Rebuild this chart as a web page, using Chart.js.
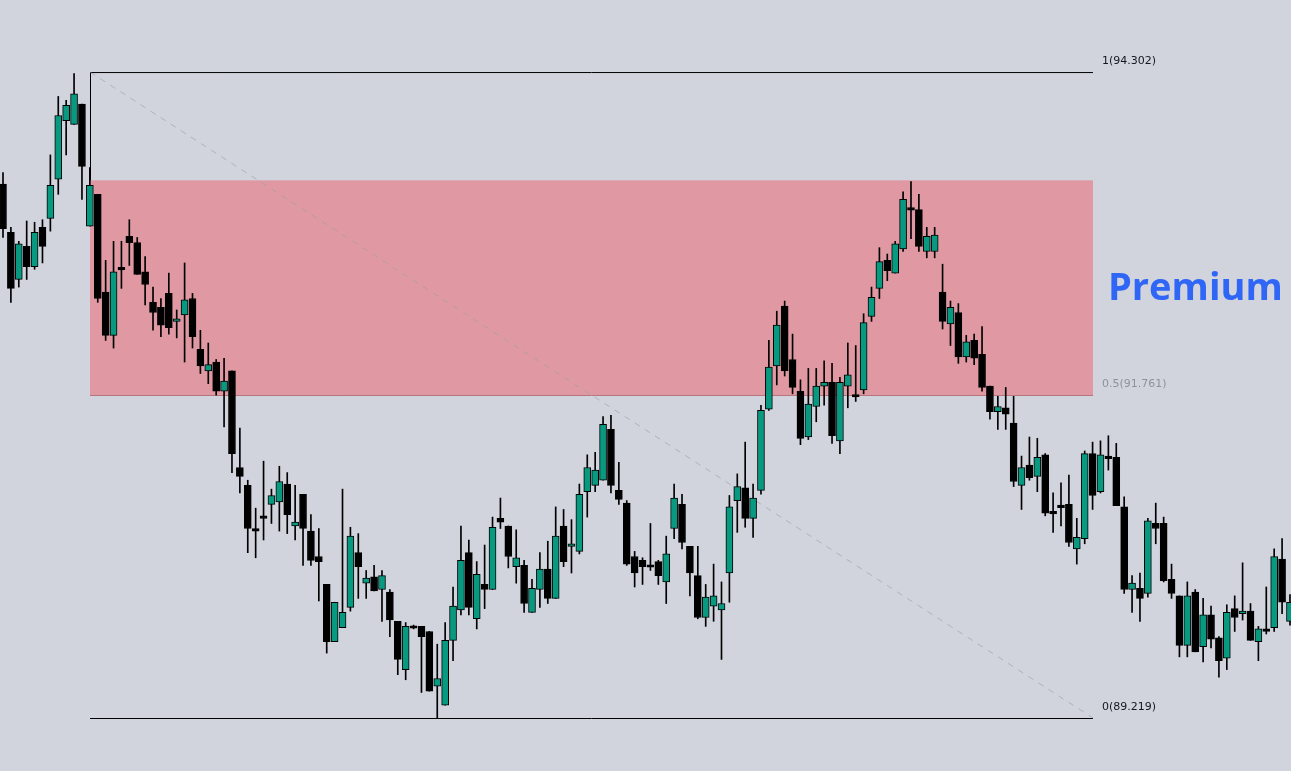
<!DOCTYPE html>
<html><head><meta charset="utf-8">
<script src="https://cdn.jsdelivr.net/npm/chart.js@4.4.1/dist/chart.umd.min.js"></script>
<style>html,body{margin:0;padding:0;background:#D1D4DD;}#w{width:1291px;height:771px;}</style>
</head><body><div id="w"><canvas id="c"></canvas></div>
<script>
const opens=[93.42,93.04,92.67,92.93,92.77,93.08,93.15,93.46,93.92,93.89,94.05,93.09,93.34,92.57,92.23,92.76,93.01,92.96,92.73,92.49,92.45,92.56,92.34,92.39,92.52,92.12,91.95,92.02,91.79,91.95,91.19,91.05,90.71,90.81,90.90,90.92,91.06,90.73,90.98,90.69,90.49,90.27,89.82,89.93,90.09,90.52,90.28,90.33,90.23,90.21,89.98,89.60,89.94,89.94,89.90,89.47,89.32,89.83,90.07,90.52,90.00,90.27,90.23,90.79,90.73,90.41,90.42,90.05,90.23,90.39,90.16,90.73,90.57,90.53,91.00,91.05,91.09,91.49,91.01,90.91,90.49,90.46,90.42,90.45,90.29,90.71,90.90,90.57,90.34,90.01,90.10,90.07,90.36,90.93,91.03,90.79,91.01,91.65,91.99,92.46,92.04,91.79,91.43,91.67,91.83,91.86,91.40,91.83,91.76,91.80,92.38,92.60,92.82,92.72,92.91,93.23,93.22,92.89,92.89,92.57,92.32,92.41,92.06,92.19,92.08,91.83,91.63,91.66,91.54,91.05,91.21,91.12,91.29,90.84,90.89,90.90,90.55,90.63,91.30,91.00,91.28,91.27,90.88,90.23,90.24,90.20,90.75,90.75,90.31,90.18,89.79,90.21,89.78,90.03,89.85,89.69,90.08,90.04,90.06,89.82,89.92,89.93,90.47,89.98];
const highs=[93.51,93.08,92.97,93.13,93.12,93.14,93.65,94.11,94.08,94.29,94.05,93.55,93.34,92.82,92.97,92.97,93.14,93.00,92.85,92.61,92.52,92.72,92.43,92.80,92.56,92.27,92.17,92.04,92.05,91.95,91.50,91.09,90.87,91.24,91.02,91.20,91.15,91.05,90.98,90.82,90.71,90.27,90.13,91.02,90.72,90.67,90.38,90.42,90.38,90.23,89.98,89.97,89.95,89.94,89.90,89.80,89.97,90.25,90.73,90.62,90.45,90.58,90.80,90.95,90.73,90.70,90.46,90.31,90.52,90.61,90.88,90.86,90.78,91.06,91.29,91.31,91.59,91.60,91.23,90.93,90.53,90.48,90.75,90.46,90.65,91.06,90.98,90.57,90.57,90.27,90.43,90.29,90.97,91.14,91.39,91.06,91.68,92.19,92.42,92.50,92.24,91.88,91.97,91.97,92.03,92.01,91.90,92.17,92.15,92.40,92.61,92.92,92.87,92.97,93.36,93.44,93.34,93.08,93.08,92.79,92.50,92.48,92.23,92.24,92.30,91.83,91.75,91.82,91.75,91.28,91.43,91.42,91.30,90.99,91.07,91.13,90.79,91.32,91.39,91.40,91.44,91.38,90.96,90.34,90.36,90.79,90.91,90.80,90.43,90.18,90.29,90.23,90.16,90.10,89.86,90.11,90.18,90.44,90.12,89.94,90.25,90.55,90.63,90.19];
const lows=[93.00,92.49,92.61,92.67,92.75,92.80,93.05,93.34,93.65,93.89,93.30,93.09,92.49,92.19,92.13,92.60,92.78,92.71,92.47,92.27,92.22,92.24,92.21,92.02,92.13,91.93,91.85,91.76,91.51,91.15,90.99,90.52,90.48,90.62,90.75,90.69,90.67,90.62,90.42,90.42,90.14,89.73,89.82,89.93,90.06,90.16,90.16,90.22,89.98,89.86,89.56,89.52,89.92,89.42,89.43,89.22,89.32,89.67,90.03,90.03,89.92,90.08,90.23,90.71,90.40,90.28,90.05,90.05,90.09,90.12,90.16,90.41,90.36,90.51,90.80,91.00,91.09,90.99,90.90,90.42,90.25,90.27,90.38,90.27,90.12,90.63,90.55,90.18,90.00,89.94,89.98,89.68,90.13,90.68,90.72,90.64,90.98,91.64,91.84,91.91,91.77,91.37,91.41,91.55,91.68,91.38,91.30,91.66,91.71,91.77,92.34,92.52,92.66,92.72,92.89,92.99,92.89,92.84,92.84,92.28,92.15,92.01,92.02,92.00,91.79,91.57,91.49,91.49,91.04,90.86,91.09,91.00,90.81,90.68,90.73,90.57,90.43,90.59,90.86,90.99,91.17,90.89,90.20,90.05,89.98,90.17,90.59,90.29,90.16,89.70,89.70,89.74,89.66,89.77,89.54,89.60,89.90,89.99,89.83,89.67,89.88,89.90,90.04,89.95];
const closes=[93.07,92.60,92.95,92.77,93.04,92.93,93.41,93.96,94.04,94.13,93.56,93.41,92.52,92.23,92.73,92.75,92.96,92.71,92.63,92.41,92.31,92.29,92.36,92.51,92.22,91.99,92.00,91.79,91.87,91.30,91.12,90.71,90.69,90.79,90.97,91.08,90.82,90.76,90.71,90.46,90.45,89.82,90.13,90.05,90.65,90.41,90.32,90.22,90.34,89.99,89.68,89.94,89.93,89.86,89.43,89.53,89.83,90.10,90.46,90.09,90.35,90.23,90.72,90.76,90.49,90.48,90.12,90.24,90.39,90.16,90.65,90.45,90.59,90.98,91.19,91.17,91.53,91.05,90.94,90.43,90.36,90.41,90.41,90.34,90.51,90.95,90.60,90.36,90.01,90.17,90.18,90.12,90.88,91.04,90.79,90.95,91.64,91.98,92.31,91.95,91.82,91.42,91.69,91.83,91.86,91.44,91.86,91.92,91.75,92.33,92.53,92.81,92.74,92.95,93.30,93.22,92.93,93.01,93.02,92.34,92.45,92.06,92.18,92.05,91.82,91.63,91.67,91.61,91.08,91.19,91.11,91.27,90.83,90.83,90.88,90.60,90.64,91.30,90.97,91.29,91.26,90.89,90.23,90.28,90.16,90.77,90.71,90.30,90.20,89.79,90.18,89.74,90.03,89.84,89.67,90.05,90.01,90.06,89.83,89.92,89.90,90.49,90.13,90.13];
const fibLevels=[94.302,91.761,89.219];
const fibLabels=['1(94.302)','0.5(91.761)','0(89.219)'];
const zoneTop=93.45;
const fibStart=12.02, fibEnd=139.05;

const idx=opens.map((_,i)=>i+1);
const wicks=idx.map((x,i)=>({x,y:[lows[i],highs[i]]}));
const bodies=idx.map((x,i)=>{let a=Math.min(opens[i],closes[i]),b=Math.max(opens[i],closes[i]);if(b-a<0.02){const m=(a+b)/2;a=m-0.01;b=m+0.01;}return {x,y:[a,b]};});
const bodyCol=idx.map((x,i)=>closes[i]>=opens[i]?'#089981':'#000000');

const overlay={id:'overlay',beforeDatasetsDraw(ch){
 const {ctx,scales:{x,y}}=ch;
 const x0=x.getPixelForValue(fibStart),x1=x.getPixelForValue(fibEnd);
 const yT=y.getPixelForValue(fibLevels[0]),yM=y.getPixelForValue(fibLevels[1]),yB=y.getPixelForValue(fibLevels[2]),yZ=y.getPixelForValue(zoneTop);
 ctx.save();
 ctx.fillStyle='rgba(230,130,140,0.72)';ctx.fillRect(x0,yZ,x1-x0,yM-yZ);
 ctx.strokeStyle='#b57078';ctx.lineWidth=1;ctx.beginPath();ctx.moveTo(x0,yM+0.5);ctx.lineTo(x1,yM+0.5);ctx.stroke();
 ctx.strokeStyle='#000';ctx.beginPath();ctx.moveTo(x0,yT+0.5);ctx.lineTo(x1,yT+0.5);ctx.moveTo(x0,yB+0.5);ctx.lineTo(x1,yB+0.5);ctx.moveTo(x0+0.5,yT);ctx.lineTo(x0+0.5,yZ);ctx.stroke();
 ctx.strokeStyle='rgba(150,155,165,0.6)';ctx.setLineDash([6,6]);ctx.beginPath();ctx.moveTo(x0,yT);ctx.lineTo(x1,yB);ctx.stroke();ctx.setLineDash([]);
 ctx.font='11px "DejaVu Sans"';ctx.textBaseline='middle';
 ctx.fillStyle='#131722';ctx.fillText(fibLabels[0],x1+9,yT-11);
 ctx.fillStyle='#8d929c';ctx.fillText(fibLabels[1],x1+9,yM-11);
 ctx.fillStyle='#131722';ctx.fillText(fibLabels[2],x1+9,yB-11);
 ctx.font='bold 38px "Open Sans"';ctx.fillStyle='#2f66f6';ctx.fillText('Premium',1108,289);
 ctx.restore();
}};

new Chart(document.getElementById('c'),{
 type:'bar',
 data:{datasets:[
  {data:wicks,backgroundColor:'#000',barThickness:1,grouped:false,order:2},
  {data:bodies,backgroundColor:bodyCol,borderColor:'#000',borderWidth:1,borderSkipped:false,barThickness:7,grouped:false,order:1}
 ]},
 options:{responsive:true,maintainAspectRatio:false,animation:false,
  layout:{padding:0},
  plugins:{legend:{display:false},tooltip:{enabled:false}},
  scales:{
   x:{type:'linear',min:0.62,max:164.13,display:false,offset:false},
   y:{min:88.802,max:94.869,display:false}
  }},
 plugins:[overlay]
});
</script></body></html>
